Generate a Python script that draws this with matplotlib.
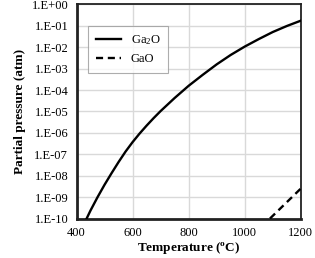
import numpy as np
import matplotlib
matplotlib.use('Agg')
import matplotlib.pyplot as plt
from matplotlib.ticker import FuncFormatter, FixedLocator

plt.rcParams['font.family'] = 'Liberation Serif'
plt.rcParams['mathtext.fontset'] = 'custom'
plt.rcParams['mathtext.rm'] = 'Liberation Serif'
plt.rcParams['mathtext.it'] = 'Liberation Serif:italic'
plt.rcParams['mathtext.bf'] = 'Liberation Serif:bold'

# Данные (T в °C, log10 давления в атм)
ga2o_t = [436, 450, 475, 500, 525, 550, 575, 600, 625, 650, 675, 700,
          750, 800, 850, 900, 950, 1000, 1050, 1100, 1150, 1200]
ga2o_logp = [-10, -9.62, -9.0, -8.42, -7.88, -7.36, -6.87, -6.43, -6.03, -5.66, -5.31, -4.98,
             -4.37, -3.80, -3.29, -2.80, -2.36, -1.97, -1.62, -1.29, -1.01, -0.76]
gao_t = [1090, 1145, 1200]
gao_logp = [-10, -9.3, -8.6]

x_ticks = [400, 600, 800, 1000, 1200]
y_exps = list(range(-10, 1))

fig = plt.figure(figsize=(3.15, 2.58), dpi=100)
ax = fig.add_axes([0.243, 0.153, 0.712, 0.83])

ax.plot(ga2o_t, 10.0 ** np.array(ga2o_logp), color='black', lw=1.7, label='Ga$_2$O', zorder=3)
ax.plot(gao_t, 10.0 ** np.array(gao_logp), color='black', lw=1.7, ls=(0, (3, 2)), label='GaO', zorder=3)

ax.set_yscale('log')
ax.set_xlim(400, 1200)
ax.set_ylim(1e-10, 1)
ax.xaxis.set_major_locator(FixedLocator(x_ticks))
ax.yaxis.set_major_locator(FixedLocator([10.0 ** e for e in y_exps]))
ax.yaxis.set_minor_locator(FixedLocator([]))
ax.yaxis.set_major_formatter(FuncFormatter(lambda v, p: '1.E%+03d' % int(round(np.log10(v)))))

ax.tick_params(length=0, labelsize=9, pad=6)

# сетка рисуется вручную линиями
for xv in x_ticks:
    ax.axvline(xv, color='#d9d9d9', lw=1.0, zorder=1)
for e in y_exps:
    ax.axhline(10.0 ** e, color='#d9d9d9', lw=1.0, zorder=1)

for s in ['top', 'right']:
    ax.spines[s].set_linewidth(1.3)
    ax.spines[s].set_color('#222222')
for s in ['left', 'bottom']:
    ax.spines[s].set_linewidth(2)
    ax.spines[s].set_color('#222222')

ax.set_xlabel(r'Temperature ($^{\mathbf{o}}$C)', fontsize=9.5, fontweight='bold', labelpad=1)
ax.set_ylabel('Partial pressure (atm)', fontsize=9.5, fontweight='bold', labelpad=4)

leg = ax.legend(loc='upper left', bbox_to_anchor=(0.025, 0.93), fontsize=9, fancybox=False,
                edgecolor='#999999', handlelength=2.0, borderpad=0.6, labelspacing=0.5)
leg.get_frame().set_linewidth(0.8)
leg.set_zorder(5)

fig.savefig('out.png', dpi=100)
